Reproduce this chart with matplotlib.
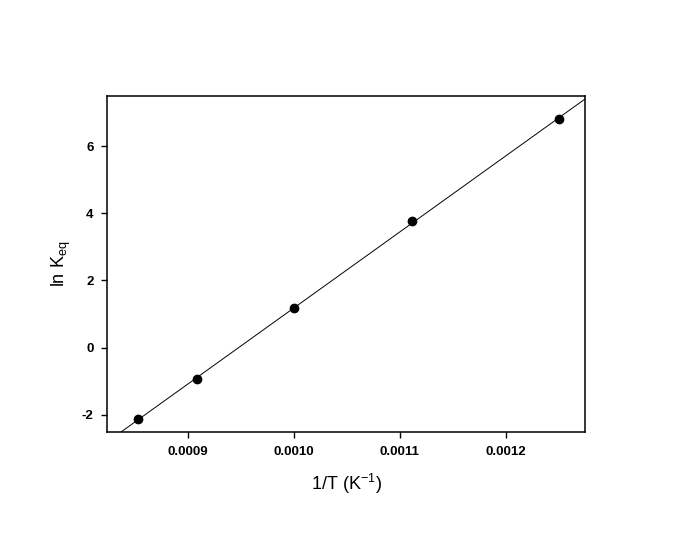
import matplotlib
matplotlib.use("Agg")
import matplotlib.pyplot as plt
import numpy as np

plt.rcParams.update({
    "font.family": ["Liberation Sans", "DejaVu Sans"],
    "mathtext.default": "regular",
})

inv_T = [0.000853, 0.000909, 0.001000, 0.001111, 0.001250]
ln_keq = [-2.13, -0.94, 1.18, 3.76, 6.82]
xticks = [0.0009, 0.0010, 0.0011, 0.0012]
yticks = [-2, 0, 2, 4, 6]

fig = plt.figure(figsize=(6.82, 5.39), dpi=100)
ax = fig.add_axes([0.1573, 0.1985, 0.7012, 0.6234])

xlim = (0.000824, 0.001275)
ylim = (-2.52, 7.5)

# least-squares line across the whole x range
slope, icpt = np.polyfit(inv_T, ln_keq, 1)
xs = np.array(xlim)
ax.plot(xs, slope * xs + icpt, color="black", lw=0.7)
ax.plot(inv_T, ln_keq, "o", color="black", ms=6)

ax.set_xlim(*xlim)
ax.set_ylim(*ylim)
ax.set_xticks(xticks, [f"{t:.4f}" for t in xticks])
ax.set_yticks(yticks, [str(t) for t in yticks])
ax.tick_params(direction="out", length=4, width=1, labelsize=9.5, pad=6)
for lab in ax.get_xticklabels() + ax.get_yticklabels():
    lab.set_fontweight("bold")
for s in ax.spines.values():
    s.set_linewidth(1.1)

ax.set_xlabel("1/T (K$^{-1}$)", fontsize=13, labelpad=10)
ax.set_ylabel("ln K$_{eq}$", fontsize=13, labelpad=6)

fig.savefig("out.png", dpi=100)
